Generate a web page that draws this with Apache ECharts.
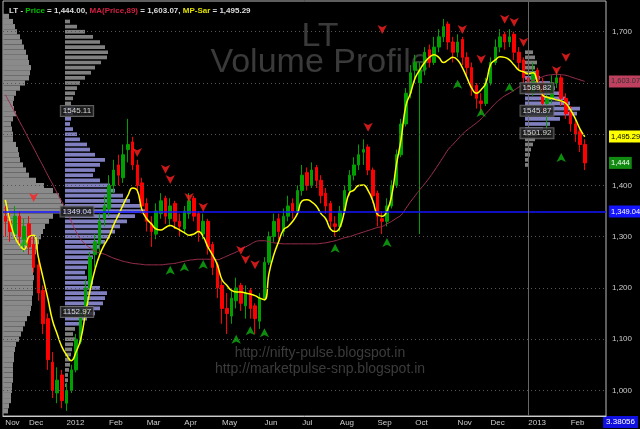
<!DOCTYPE html>
<html>
<head>
<meta charset="utf-8">
<script src="https://cdn.jsdelivr.net/npm/echarts@6/dist/echarts.min.js"></script>
<style>html,body{margin:0;padding:0;background:#000}#chart{width:640px;height:429px}</style>
</head>
<body>
<div id="chart"></div>
<script>
// slots on the x axis, month labels at slot index
var slotCount=128;
var monthStarts=[0,5,13,22,30,38,46,55,63,71,79,87,96,103,111,120];
var monthLabels=['Nov','Dec','2012','Feb','Mar','Apr','May','Jun','Jul','Aug','Sep','Oct','Nov','Dec','2013','Feb'];
var priceTicks=[1000,1100,1200,1300,1400,1500,1600,1700];
// candles [open, close, low, high]
var candles=[
[1340,1330,1300,1360],[1330,1310,1290,1345],[1305,1340,1295,1360],[1340,1300,1285,1350],[1295,1320,1270,1335],
[1325,1280,1265,1340],[1285,1240,1230,1300],[1245,1190,1175,1255],[1195,1130,1110,1205],[1140,1060,1040,1150],
[1055,1000,985,1075],[995,1020,975,1045],[1030,980,965,1040],[975,1000,960,1015],[1000,1040,995,1050],
[1040,1100,1035,1110],[1095,1150,1090,1160],[1150,1200,1140,1215],[1200,1260,1195,1270],[1265,1290,1240,1305],
[1285,1330,1270,1345],[1335,1360,1320,1380],[1355,1400,1340,1420],[1400,1430,1385,1450],[1440,1420,1400,1460],
[1415,1460,1405,1480],[1470,1480,1445,1530],[1485,1440,1430,1495],[1440,1400,1385,1450],[1405,1360,1345,1415],
[1365,1330,1310,1375],[1325,1310,1280,1340],[1305,1350,1295,1365],[1345,1370,1335,1385],[1375,1340,1325,1380],
[1335,1360,1320,1375],[1365,1330,1315,1370],[1330,1320,1300,1345],[1315,1350,1305,1360],[1345,1370,1335,1385],
[1375,1340,1330,1380],[1345,1310,1290,1350],[1305,1330,1295,1345],[1330,1280,1265,1335],[1285,1240,1225,1290],
[1245,1200,1180,1250],[1205,1160,1130,1215],[1160,1150,1110,1190],[1145,1180,1130,1195],[1175,1200,1160,1220],
[1205,1170,1155,1210],[1165,1190,1140,1205],[1195,1160,1140,1200],[1165,1140,1110,1170],[1135,1180,1120,1190],
[1180,1250,1175,1260],[1250,1300,1245,1310],[1300,1330,1290,1345],[1335,1310,1295,1345],[1310,1340,1300,1355],
[1340,1360,1330,1380],[1365,1350,1335,1375],[1350,1390,1345,1400],[1390,1420,1380,1440],[1425,1400,1390,1435],
[1400,1430,1395,1445],[1435,1410,1395,1440],[1410,1380,1365,1420],[1385,1360,1345,1395],[1365,1330,1315,1370],
[1325,1320,1300,1340],[1320,1350,1310,1360],[1350,1390,1345,1400],[1390,1420,1380,1430],[1420,1440,1410,1455],
[1440,1460,1430,1480],[1465,1470,1440,1490],[1475,1430,1420,1480],[1430,1380,1365,1435],[1385,1340,1320,1390],
[1335,1330,1305,1350],[1330,1360,1320,1375],[1360,1400,1355,1410],[1400,1460,1395,1470],[1460,1520,1455,1530],
[1520,1580,1515,1590],[1580,1620,1570,1635],[1625,1640,1600,1655],[1600,1625,1305,1640],[1625,1660,1615,1670],
[1665,1640,1630,1675],[1640,1670,1635,1690],[1670,1690,1660,1705],[1690,1710,1680,1725],[1715,1680,1665,1720],
[1680,1660,1640,1690],[1660,1680,1650,1695],[1685,1650,1635,1690],[1650,1630,1615,1660],[1630,1590,1575,1640],
[1595,1570,1550,1600],[1565,1560,1540,1580],[1560,1600,1555,1610],[1600,1640,1595,1650],[1640,1670,1635,1685],
[1670,1690,1660,1705],[1695,1680,1665,1700],[1680,1690,1670,1705],[1695,1660,1645,1700],[1660,1640,1625,1670],
[1645,1610,1595,1650],[1610,1580,1570,1620],[1580,1620,1575,1640],[1625,1600,1585,1630],[1600,1560,1545,1610],
[1560,1570,1500,1600],[1570,1600,1560,1615],[1600,1610,1590,1625],[1610,1570,1555,1615],[1570,1540,1530,1580],
[1545,1520,1505,1555],[1520,1500,1485,1530],[1505,1480,1465,1510],[1480,1444,1430,1490]
];
var mpSar=[1372,1330,1300,1284,1275,1300,1303,1260,1220,1180,1137,1110,1085,1069,1058,1075,1100,1150,1196,1235,
1264,1284,1300,1323,1342,1362,1380,1395,1390,1352,1335,1325,1315,1313,1318,1322,1318,1313,1308,1303,
1305,1310,1300,1280,1264,1245,1216,1205,1195,1192,1192,1190,1188,1185,1180,1177,1230,1265,1290,1313,
1320,1330,1345,1370,1372,1368,1360,1345,1335,1315,1310,1318,1350,1385,1391,1400,1401,1390,1370,1343,
1340,1350,1380,1440,1490,1555,1580,1610,1626,1640,1650,1655,1650,1640,1645,1650,1645,1630,1610,1590,
1580,1587,1600,1636,1645,1651,1650,1645,1635,1625,1622,1618,1620,1600,1577,1572,1570,1567,1565,1560,
1547,1530,1510,1495];
var ma89=[1577,1560,1543,1525,1508,1490,1473,1455,1438,1420,1403,1385,1368,1352,1330,1310,1295,1285,1278,1272,
1268,1266,1262,1258,1255,1252,1250,1248,1247,1246,1245,1245,1245,1245,1246,1247,1248,1250,1252,1254,
1255,1256,1256,1256,1256,1255,1258,1262,1266,1270,1275,1280,1285,1290,1292,1292,1290,1288,1287,1286,
1286,1286,1286,1286,1286,1286,1286,1287,1288,1290,1292,1295,1298,1300,1303,1306,1309,1312,1315,1318,
1320,1325,1330,1336,1342,1355,1368,1380,1392,1403,1415,1428,1442,1456,1470,1480,1490,1500,1508,1515,
1522,1530,1540,1550,1560,1568,1575,1580,1586,1592,1597,1601,1605,1608,1612,1615,1616,1617,1616,1615,
1612,1609,1606,1603];
// sell / buy signals [slot, price]
var sellSignals=[[6,1352],[28,1440],[34,1407],[35,1387],[39,1352],[42,1333],[50,1249],[51,1231],[53,1221],
[77,1489],[80,1680],[97,1680],[101,1622],[106,1700],[108,1694],[110,1655],[117,1600],[119,1626]];
var buySignals=[[4,1313],[35,1259],[38,1265],[42,1270],[49,1124],[52,1141],[55,1137],[70,1302],[81,1313],
[96,1622],[101,1567],[107,1616],[118,1479]];
// volume profiles [volume, price]
var profileLeft=[[5,1720],[12,1710],[20,1700],[28,1690],[35,1680],[40,1670],[43,1660],[42,1650],[36,1640],[30,1630],
[26,1620],[20,1610],[15,1600],[12,1590],[10,1580],[8,1570],[6,1560],[10,1550],[8,1540],[6,1530],[5,1520],[8,1510],
[12,1500],[15,1490],[22,1480],[25,1470],[30,1460],[40,1450],[35,1440],[30,1430],[28,1420],[35,1410],[45,1400],
[50,1390],[58,1380],[65,1370],[75,1360],[82,1350],[70,1340],[62,1330],[55,1320],[50,1310],[45,1300],[40,1290],
[35,1280],[30,1270],[28,1260],[25,1250],[22,1240],[20,1230],[22,1220],[28,1210],[35,1200],[42,1190],[40,1180],
[38,1170],[35,1160],[30,1150],[22,1140],[15,1130],[10,1120],[8,1110],[10,1100],[8,1090],[7,1080],[6,1070],
[5,1060],[5,1050],[4,1040],[3,1030],[3,1020],[2,1010]];
var profileRight=[[8,1660],[10,1650],[12,1640],[10,1630],[14,1620],[15,1610],[25,1600],[30,1590],[35,1580],
[40,1570],[45,1560],[55,1550],[52,1540],[35,1530],[25,1520],[18,1510],[12,1500],[10,1490],[8,1480],[6,1470],
[5,1460],[4,1450],[3,1440]];
var profileAll=[[6,1730],[10,1720],[12,1710],[14,1700],[17,1690],[19,1680],[21,1670],[23,1660],[25,1650],[26,1640],
[28,1630],[27,1620],[26,1610],[22,1600],[17,1590],[13,1580],[11,1570],[10,1560],[11,1550],[13,1540],[10,1530],
[8,1520],[9,1510],[10,1500],[10,1490],[13,1480],[15,1470],[16,1460],[17,1450],[20,1440],[23,1430],[26,1420],
[33,1410],[41,1400],[50,1390],[56,1380],[58,1370],[60,1360],[58,1350],[50,1340],[46,1330],[42,1320],[40,1310],
[38,1300],[36,1290],[35,1280],[33,1270],[32,1260],[31,1250],[30,1240],[30,1230],[31,1220],[30,1210],[30,1200],
[30,1190],[29,1180],[29,1170],[28,1160],[27,1150],[24,1140],[22,1130],[20,1120],[18,1110],[16,1100],[13,1090],
[12,1080],[11,1070],[11,1060],[10,1050],[10,1040],[10,1030],[10,1020],[9,1010],[9,1000],[8,990],[8,980],[6,970],[5,960]];
var profileLabelsLeft=[1545.11,1349.04,1152.97];
var profileLabelsRight=[1589.82,1545.87,1501.92];

var slots=[];
for(var i=0;i<slotCount;i++){slots.push(String(i));}
var yMin=950,yMax=1760;

function profileItem(half,colorFn){
	return function(params,api){
		var v=api.value(0),p=api.value(1);
		var a=api.coord([0,p+half]),b=api.coord([v,p-half]);
		return {type:'rect',shape:{x:a[0],y:a[1],width:b[0]-a[0],height:b[1]-a[1]},style:{fill:colorFn(p)}};
	};
}
function boxLabel(){
	return {show:true,position:'inside',offset:[12,0],formatter:function(p){return p.value[1].toFixed(2);},
		color:'#fff',fontSize:8,fontFamily:'Arial',backgroundColor:'#222',borderColor:'#777',borderWidth:1,padding:[1,2]};
}
function tagLabel(text,bg,fg){
	return {show:true,position:'end',formatter:text,color:fg,backgroundColor:bg,fontSize:7.5,
		fontFamily:'Arial',padding:[2,2],distance:3};
}
function priceTag(v,text,bg,fg){
	return {yAxis:v,label:tagLabel(text,bg,fg),lineStyle:{color:'rgba(0,0,0,0)',width:1,type:'solid'}};
}
var gridLines=priceTicks.map(function(v){
	return {yAxis:v,lineStyle:{color:'#555',width:1,type:[1,3]},
		label:{show:true,position:'end',formatter:v.toLocaleString('en-US'),color:'#ccc',fontSize:8,fontFamily:'Arial',distance:6}};
});

var myChart=echarts.init(document.getElementById('chart'));
var option={
	backgroundColor:'#000',
	animation:false,
	title:{left:4,top:2,text:'{w|LT - }{g|Price}{w| = 1,444.00, }{r|MA(Price,89)}{w| = 1,603.07, }{y|MP-Sar}{w| = 1,495.29}',
		textStyle:{fontSize:8,fontWeight:'bold',fontFamily:'Arial',rich:{w:{color:'#ddd',fontSize:8,fontWeight:'bold'},
		g:{color:'#00c000',fontSize:8,fontWeight:'bold'},r:{color:'#d02040',fontSize:8,fontWeight:'bold'},
		y:{color:'#e0e000',fontSize:8,fontWeight:'bold'}}}},
	graphic:[
		{type:'text',left:'center',top:20,style:{text:'LT',fill:'#3a3a3a',font:'34px Arial'}},
		{type:'text',left:'center',top:46,style:{text:'Volume Profile',fill:'#3a3a3a',font:'34px Arial'}},
		{type:'text',left:'center',top:346,style:{text:'http://nifty-pulse.blogspot.in',fill:'#3c3c3c',font:'14px Arial'}},
		{type:'text',left:'center',top:362,style:{text:'http://marketpulse-snp.blogspot.in',fill:'#3c3c3c',font:'14px Arial'}},
		{type:'text',right:2,bottom:1,style:{text:'3.38056',fill:'#fff',backgroundColor:'#1010e0',font:'8px Arial',padding:[2,3]}}
	],
	grid:[
		{left:3,right:34,top:1,bottom:13,show:true,borderColor:'#bbb',borderWidth:1},
		{left:65,width:100,top:1,bottom:13},
		{left:525,width:100,top:1,bottom:13},
		{left:3,width:100,top:1,bottom:13}
	],
	xAxis:[
		{type:'category',data:slots,gridIndex:0,boundaryGap:true,
			axisLine:{lineStyle:{color:'#ccc'}},
			axisTick:{inside:true,length:4,alignWithLabel:true,interval:function(i){return monthStarts.indexOf(i)>=0;},lineStyle:{color:'#ccc'}},
			axisLabel:{interval:function(i){return monthStarts.indexOf(i)>=0;},formatter:function(v,i){return monthLabels[monthStarts.indexOf(i)];},
				color:'#ccc',fontSize:8,fontFamily:'Arial',align:'left',margin:3},
			splitLine:{show:false}},
		{type:'value',gridIndex:1,min:0,max:100,show:false},
		{type:'value',gridIndex:2,min:0,max:100,show:false},
		{type:'value',gridIndex:3,min:0,max:100,show:false}
	],
	yAxis:[
		{type:'value',gridIndex:0,position:'right',min:yMin,max:yMax,
			axisLine:{show:false},axisTick:{show:false},axisLabel:{show:false},splitLine:{show:false}},
		{type:'value',gridIndex:1,min:yMin,max:yMax,show:false},
		{type:'value',gridIndex:2,min:yMin,max:yMax,show:false},
		{type:'value',gridIndex:3,min:yMin,max:yMax,show:false}
	],
	series:[
		{type:'custom',xAxisIndex:3,yAxisIndex:3,data:profileAll,encode:{x:0,y:1},z:1,
			renderItem:profileItem(5,function(){return '#8a8a8a';})},
		{type:'custom',xAxisIndex:1,yAxisIndex:1,data:profileLeft,encode:{x:0,y:1},z:1,
			renderItem:profileItem(3.6,function(p){return (p>1555||p<1125)?'#808080':'#8080c0';})},
		{type:'custom',xAxisIndex:2,yAxisIndex:2,data:profileRight,encode:{x:0,y:1},z:1,
			renderItem:profileItem(3.6,function(p){return (p>1615||p<1505)?'#808080':'#8080c0';})},
		{type:'line',data:[],markLine:{symbol:'none',silent:true,animation:false,data:gridLines},z:0},
		{type:'candlestick',name:'Price',xAxisIndex:0,yAxisIndex:0,data:candles,barWidth:3,z:3,
			itemStyle:{color:'#00a000',color0:'#ff0000',borderColor:'#00a000',borderColor0:'#ff0000',borderWidth:1},
			markLine:{symbol:'none',silent:true,animation:false,data:[
				{yAxis:1349.04,lineStyle:{color:'#1414ff',width:1.5,type:'solid'},label:tagLabel('1,349.04','#1414ff','#fff')},
				priceTag(1603.07,'1,603.07','#c04060','#333'),
				priceTag(1495.29,'1,495.29','#ffff00','#000'),
				priceTag(1444,'1,444','#108a10','#fff'),
				{xAxis:'111',lineStyle:{color:'#666',width:1,type:'solid'},label:{show:false}}
			]}},
		{type:'line',name:'MA(Price,89)',data:ma89,symbol:'none',smooth:true,z:4,lineStyle:{color:'#a03050',width:1}},
		{type:'line',name:'MP-Sar',data:mpSar,symbol:'none',smooth:true,z:4,lineStyle:{color:'#ffff00',width:1.5}},
		{type:'scatter',data:sellSignals,symbol:'arrow',symbolRotate:180,symbolSize:[7,9],symbolOffset:[0,-8],z:5,itemStyle:{color:'#ff2020'}},
		{type:'scatter',data:buySignals,symbol:'arrow',symbolSize:[7,9],symbolOffset:[0,8],z:5,itemStyle:{color:'#10b010'}},
		{type:'scatter',xAxisIndex:1,yAxisIndex:1,data:profileLabelsLeft.map(function(v){return [0,v];}),symbolSize:1,z:6,label:boxLabel()},
		{type:'scatter',xAxisIndex:2,yAxisIndex:2,data:profileLabelsRight.map(function(v){return [0,v];}),symbolSize:1,z:6,label:boxLabel()}
	]
};
myChart.setOption(option);
</script>
</body>
</html>
